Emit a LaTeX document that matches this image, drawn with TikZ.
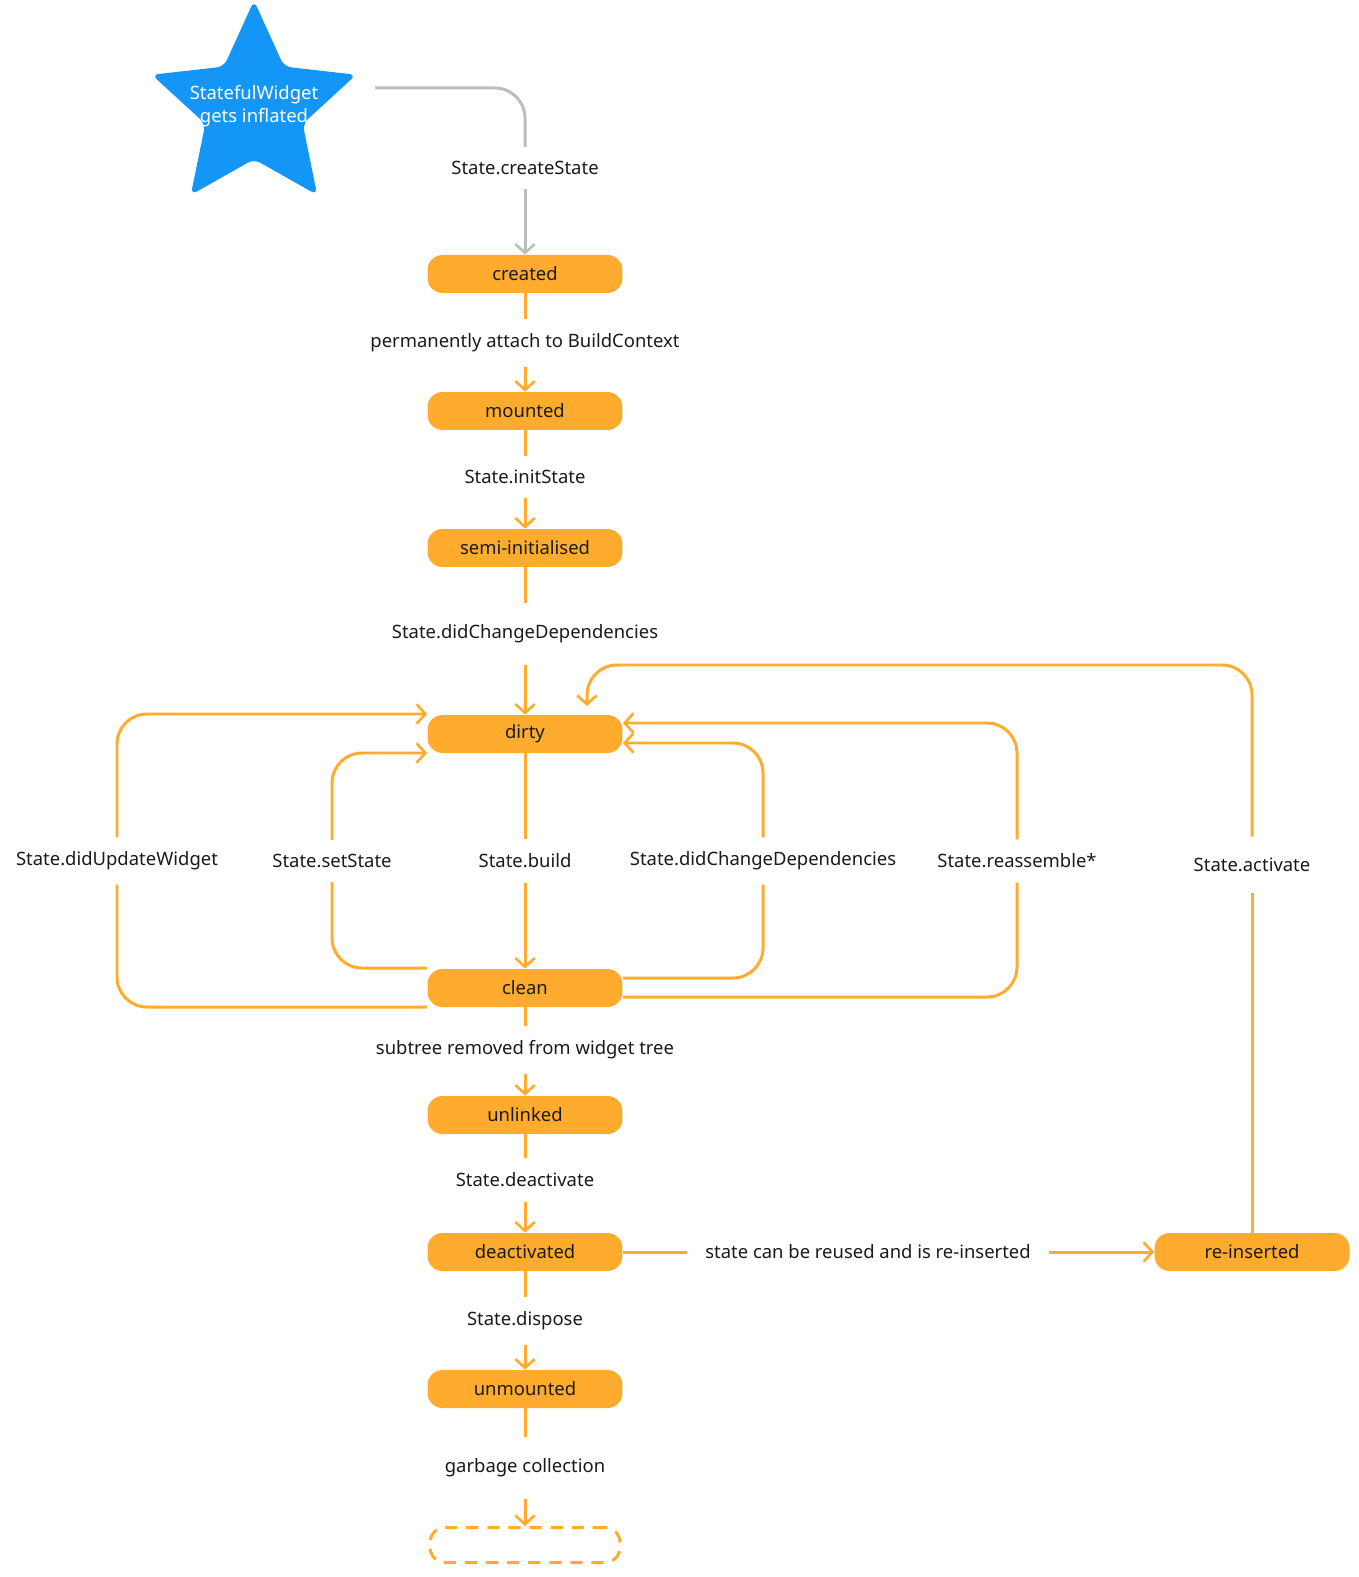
\documentclass[tikz,border=0pt]{standalone}
\usepackage{fontspec}
\setmainfont{Noto Sans}
\usetikzlibrary{arrows.meta, shapes.geometric, calc}
\definecolor{stOrange}{HTML}{FFAB2E}
\definecolor{stBlue}{HTML}{1396F5}
\definecolor{stGrey}{HTML}{BDBDBD}
\definecolor{stText}{HTML}{1A1A1A}
\begin{document}
\begin{tikzpicture}[x=0.02cm, y=-0.02cm]

    % Canvas
    \useasboundingbox (0,0) rectangle (1358,1577);
    \fontsize{10.5}{13}\selectfont

    % States
    \tikzset{St/.style={rectangle, rounded corners = 0.3cm, fill = stOrange, minimum width = 3.9cm, minimum height = 0.76cm, inner sep = 0pt, text = stText}}
    \tikzset{StEnd/.style={St, fill = none, draw = stOrange, line width = 1.7pt, dash pattern = on 7pt off 5pt, minimum width = 3.8cm, minimum height = 0.7cm}}
    \tikzset{Lb/.style={inner sep = 8pt, text = stText}}

    % Connectors
    \tikzset{Ln/.style={draw = stOrange, line width = 1.7pt}}
    \tikzset{Ar/.style={Ln, -{Straight Barb[length = 5pt, width = 11pt, line width = 1.5pt]}}}
    \tikzset{Gr/.style={Ar, draw = stGrey}}

    % Start
    \node (start) [star, star points = 5, star point ratio = 2.1, minimum size = 4.3cm, fill = stBlue, rounded corners = 4pt, text = white, align = center, inner sep = 0pt] at (254, 108) {};
    \node (startTxt) [text = white, align = center] at (254, 106) {StatefulWidget\\gets inflated};
    \coordinate (sOut) at (375, 88);

    % Lifecycle nodes
    \node (lCreate) [Lb] at (525, 168) {State.createState};
    \node (created) [St] at (525, 274) {created};
    \node (lAttach) [Lb] at (525, 343) {\textbf{permanently} attach to BuildContext};
    \node (mounted) [St] at (525, 411) {mounted};
    \node (lInit) [Lb] at (525, 477) {State.initState};
    \node (semi) [St] at (525, 548) {semi-initialised};
    \node (lDep) [Lb, inner sep = 12pt] at (525, 634) {State.didChangeDependencies};
    \node (dirty) [St] at (525, 734) {dirty};
    \node (lBuild) [Lb] at (525, 861) {\textbf{State.build}};
    \node (clean) [St] at (525, 988) {clean};
    \node (lRemove) [Lb] at (525, 1050) {subtree removed from widget tree};
    \node (unlinked) [St] at (525, 1115) {unlinked};
    \node (lDeact) [Lb] at (525, 1180) {State.deactivate};
    \node (deact) [St] at (525, 1252) {deactivated};
    \node (lDispose) [Lb] at (525, 1321) {State.dispose};
    \node (unmounted) [St] at (525, 1389) {unmounted};
    \node (lGarbage) [Lb, inner sep = 12pt] at (525, 1468) {garbage collection};
    \node (gone) [StEnd] at (525, 1545) {};

    % Side loops
    \node (lUpdate) [Lb] at (117, 861) {State.didUpdateWidget};
    \node (lSet) [Lb] at (332, 861) {State.setState};
    \node (lDep2) [Lb] at (763, 861) {State.didChangeDependencies};
    \node (lAssemble) [Lb] at (1017, 861) {State.reassemble*};
    \node (lAct) [Lb, inner sep = 12pt] at (1252, 865) {State.activate};
    \node (lReuse) [Lb, inner sep = 10pt] at (868, 1252) {state can be reused and is re-inserted};
    \node (reins) [St] at (1252, 1252) {re-inserted};
    \coordinate (dTop) at (587, 706);

    % Main line
    \path[Ln, draw = stGrey, rounded corners = 0.6cm] (sOut) -| (lCreate);
    \path[Gr] (lCreate) -- (created);
    \path[Ln] (created) -- (lAttach);
    \path[Ar] (lAttach) -- (mounted);
    \path[Ln] (mounted) -- (lInit);
    \path[Ar] (lInit) -- (semi);
    \path[Ln] (semi) -- (lDep);
    \path[Ar] (lDep) -- (dirty);
    \path[Ln] (dirty) -- (lBuild);
    \path[Ar] (lBuild) -- (clean);
    \path[Ln] (clean) -- (lRemove);
    \path[Ar] (lRemove) -- (unlinked);
    \path[Ln] (unlinked) -- (lDeact);
    \path[Ar] (lDeact) -- (deact);
    \path[Ln] (deact) -- (lDispose);
    \path[Ar] (lDispose) -- (unmounted);
    \path[Ln] (unmounted) -- (lGarbage);
    \path[Ar] (lGarbage) -- (gone);

    % Loops back to dirty
    \path[Ln, rounded corners = 0.6cm] ($(clean.west)+(0,19)$) -| (lUpdate);
    \path[Ar, rounded corners = 0.6cm] (lUpdate) |- ($(dirty.west)+(0,-20)$);
    \path[Ln, rounded corners = 0.6cm] ($(clean.west)+(0,-20)$) -| (lSet);
    \path[Ar, rounded corners = 0.6cm] (lSet) |- ($(dirty.west)+(0,19)$);
    \path[Ln, rounded corners = 0.6cm] ($(clean.east)+(0,-10)$) -| (lDep2);
    \path[Ar, rounded corners = 0.6cm] (lDep2) |- ($(dirty.east)+(0,9)$);
    \path[Ln, rounded corners = 0.6cm] ($(clean.east)+(0,9)$) -| (lAssemble);
    \path[Ar, rounded corners = 0.6cm] (lAssemble) |- ($(dirty.east)+(0,-11)$);

    % Reuse
    \path[Ln] (deact) -- (lReuse);
    \path[Ar] (lReuse) -- (reins);
    \path[Ln] (reins) -- (lAct);
    \path[Ar, rounded corners = 0.6cm] (lAct) |- (587, 665) -- (dTop);

\end{tikzpicture}
\end{document}
